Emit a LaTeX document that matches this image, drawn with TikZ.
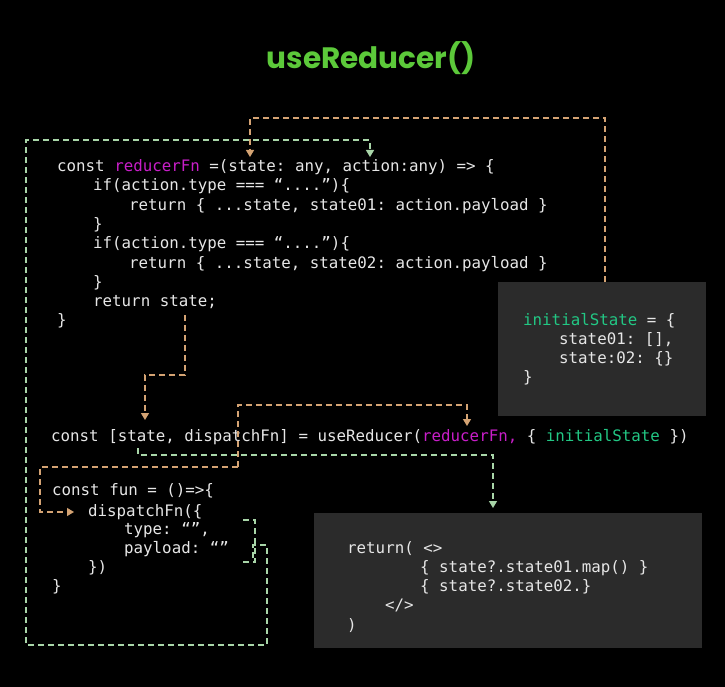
\documentclass[tikz,border=0pt]{standalone}
\usepackage{fontspec}
\setmonofont{DejaVu Sans Mono}
\newfontfamily\titlefont{Poppins}
\usetikzlibrary{arrows.meta}
\definecolor{tan}{HTML}{D4A373}
\definecolor{lgreen}{HTML}{A8D5A8}
\definecolor{mag}{HTML}{C81EC8}
\definecolor{cgreen}{HTML}{22C784}
\definecolor{txt}{HTML}{E6E6E6}
\definecolor{panel}{HTML}{2B2B2B}
\definecolor{ttl}{HTML}{5CC93A}
\begin{document}
\begin{tikzpicture}[x=1pt,y=-1pt,
  code/.style={anchor=mid west,inner sep=0pt,yshift=-2pt,text=txt,font=\ttfamily\fontsize{15.8}{19}\selectfont},
  tanline/.style={draw=tan,dashed,dash pattern=on 6pt off 4pt,line width=1.3pt},
  grline/.style={draw=lgreen,dashed,dash pattern=on 6pt off 4pt,line width=1.3pt},
  tip/.style={-{Triangle[length=7pt,width=8pt]}}]
\fill[black] (0,0) rectangle (725,687);
\useasboundingbox (0,0) rectangle (725,687);
\node[text=ttl,font=\titlefont\bfseries\fontsize{29.5}{34}\selectfont] (title) at (371,58) {useReducer()};
\fill[panel] (498,282) rectangle (706,416);
\fill[panel] (314,513) rectangle (702,648);
% reducer
\node[code] (r1) at (57,167) {const \textcolor{mag}{reducerFn} =(state: any, action:any) => \{};
\node[code] (r2) at (93,186) {if(action.type === “....”)\{};
\node[code] (r3) at (129,206) {return \{ ...state, state01: action.payload \}};
\node[code] (r4) at (93,225) {\}};
\node[code] (r5) at (93,244) {if(action.type === “....”)\{};
\node[code] (r6) at (129,264) {return \{ ...state, state02: action.payload \}};
\node[code] (r7) at (93,283) {\}};
\node[code] (r8) at (93,302) {return state;};
\node[code] (r9) at (57,321) {\}};
% initial state
\node[code] (i1) at (523,321) {\textcolor{cgreen}{initialState} = \{};
\node[code] (i2) at (559,340) {state01: [],};
\node[code] (i3) at (559,359) {state:02: \{\}};
\node[code] (i4) at (523,378) {\}};
% useReducer line
\node[code] (u1) at (51,437) {const [state, dispatchFn] = useReducer(\textcolor{mag}{reducerFn,} \{ \textcolor{cgreen}{initialState} \})};
% fun
\node[code] (f1) at (52,491) {const fun = ()=>\{};
\node[code] (f2) at (88,512) {dispatchFn(\{};
\node[code] (f3) at (124,530) {type: “”,};
\node[code] (f4) at (124,549) {payload: “”};
\node[code] (f5) at (88,568) {\})};
\node[code] (f6) at (52,587) {\}};
% return
\node[code] (t1) at (347,549) {return( <>};
\node[code] (t2) at (420,568) {\{ state?.state01.map() \}};
\node[code] (t3) at (420,587) {\{ state?.state02.\}};
\node[code] (t4) at (385,606) {</>};
\node[code] (t5) at (347,626) {)};
% connectors
\coordinate (a0) at (605,282);
\coordinate (a1) at (250,157);
\draw[tanline,tip] (a0) -- (605,118) -- (250,118) -- (a1);
\coordinate (b0) at (253,558);
\coordinate (b1) at (370,157);
\draw[grline,tip] (b0) -- (253,545) -- (267,545) -- (267,645) -- (26,645) -- (26,140) -- (370,140) -- (b1);
\draw[grline] (243,520) -- (255,520) -- (255,562) -- (243,562);
\coordinate (c0) at (185,315);
\coordinate (c1) at (145,420);
\draw[tanline,tip] (c0) -- (185,375) -- (145,375) -- (c1);
\coordinate (d0) at (238,467);
\coordinate (d1) at (467,426);
\draw[tanline,tip] (d0) -- (238,405) -- (467,405) -- (d1);
\coordinate (e1) at (74,512);
\draw[tanline,tip] (d0) -- (40,467) -- (40,512) -- (e1);
\coordinate (g0) at (138,448);
\coordinate (g1) at (493,508);
\draw[grline,tip] (g0) -- (138,455) -- (493,455) -- (g1);
\end{tikzpicture}
\end{document}
